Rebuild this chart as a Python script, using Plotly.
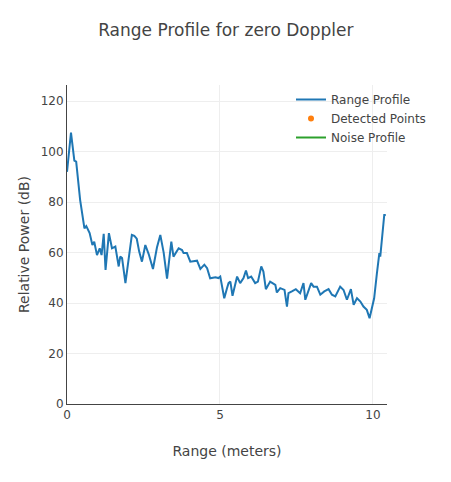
import plotly.graph_objects as go

# Range profile
range_m = [0.00, 0.13, 0.24, 0.30, 0.43, 0.57, 0.63, 0.74, 0.83, 0.89,
           0.98, 1.07, 1.13, 1.20, 1.26, 1.37, 1.47, 1.58, 1.69, 1.74,
           1.80, 1.91, 2.12, 2.20, 2.28, 2.36, 2.45, 2.56, 2.67, 2.81,
           2.94, 3.05, 3.16, 3.27, 3.41, 3.48, 3.65, 3.76, 3.81, 3.92,
           4.03, 4.25, 4.36, 4.49, 4.58, 4.68, 4.85, 4.95, 5.01, 5.14,
           5.23, 5.28, 5.34, 5.41, 5.56, 5.66, 5.77, 5.85, 5.92, 6.02,
           6.15, 6.24, 6.35, 6.42, 6.50, 6.64, 6.81, 6.86, 6.97, 7.11,
           7.19, 7.24, 7.35, 7.48, 7.62, 7.73, 7.79, 7.90, 7.98, 8.06,
           8.17, 8.28, 8.41, 8.55, 8.66, 8.77, 8.93, 9.04, 9.15, 9.28,
           9.37, 9.48, 9.59, 9.69, 9.80, 9.89, 9.97, 10.04, 10.13, 10.21,
           10.24, 10.35, 10.37, 10.42]
power_db = [92.0, 107.5, 96.4, 96.0, 80.8, 69.6, 70.5, 67.7, 63.0, 64.3,
            59.0, 61.7, 59.0, 67.4, 53.1, 67.7, 61.7, 62.4, 54.5, 58.4,
            57.8, 47.9, 67.0, 66.6, 65.5, 60.4, 56.4, 63.0, 59.4, 53.5,
            62.0, 67.0, 60.0, 49.7, 64.3, 58.4, 61.7, 61.0, 59.8, 59.8,
            56.4, 56.8, 53.5, 55.2, 53.8, 49.8, 50.2, 49.9, 50.5, 41.9,
            45.9, 47.9, 48.5, 42.9, 50.5, 47.9, 49.9, 52.9, 49.9, 50.5,
            47.9, 48.5, 54.5, 52.5, 45.5, 48.5, 47.2, 44.2, 45.9, 45.2,
            38.6, 43.9, 44.6, 45.5, 43.9, 47.9, 41.3, 45.2, 47.9, 46.5,
            46.5, 43.3, 44.6, 45.5, 43.3, 42.6, 46.5, 45.2, 41.3, 45.5,
            39.3, 41.9, 40.6, 38.6, 37.3, 34.0, 38.0, 41.9, 51.8, 59.8,
            58.4, 73.0, 74.9, 74.9]

# nothing detected / no noise profile in this frame
detected_range = [None]
detected_power = [None]
noise_range = [None]
noise_power = [None]

fig = go.Figure()

fig.add_trace(go.Scatter(x=range_m, y=power_db,
                         mode='lines',
                         line=dict(color='#1f77b4', width=2),
                         name='Range Profile'))

fig.add_trace(go.Scatter(x=detected_range, y=detected_power,
                         mode='markers',
                         marker=dict(color='#ff7f0e', size=6),
                         name='Detected Points'))

fig.add_trace(go.Scatter(x=noise_range, y=noise_power,
                         mode='lines',
                         line=dict(color='#2ca02c', width=2),
                         name='Noise Profile'))

# page body adds an 8px offset, margins below compensate for it
fig.update_layout(template='none',
                  width=451, height=482,
                  font=dict(family='DejaVu Sans, verdana, arial, sans-serif', color='#444'),
                  title=dict(text='Range Profile for zero Doppler',
                             x=0.483, xanchor='center',
                             y=0.954, yanchor='middle',
                             font=dict(size=17)),
                  margin=dict(l=59, r=72, t=77, b=86),
                  paper_bgcolor='white', plot_bgcolor='white',
                  xaxis=dict(title=dict(text='Range (meters)', font=dict(size=14)),
                             range=[0, 10.46],
                             tickvals=[0, 5, 10],
                             tickfont=dict(size=12),
                             showgrid=True, gridcolor='#eee',
                             showline=True, linecolor='#444', linewidth=1,
                             zeroline=False, ticks='', automargin=False),
                  yaxis=dict(title=dict(text='Relative Power (dB)', font=dict(size=14)),
                             range=[0, 126.4],
                             dtick=20,
                             tickfont=dict(size=12),
                             showgrid=True, gridcolor='#eee',
                             showline=True, linecolor='#444', linewidth=1,
                             zeroline=False, ticks='', automargin=False),
                  legend=dict(x=0.70, y=1.0, xanchor='left', yanchor='top',
                              bgcolor='rgba(255,255,255,0)',
                              font=dict(size=12)),
                  showlegend=True)

fig.write_html("out.html")
